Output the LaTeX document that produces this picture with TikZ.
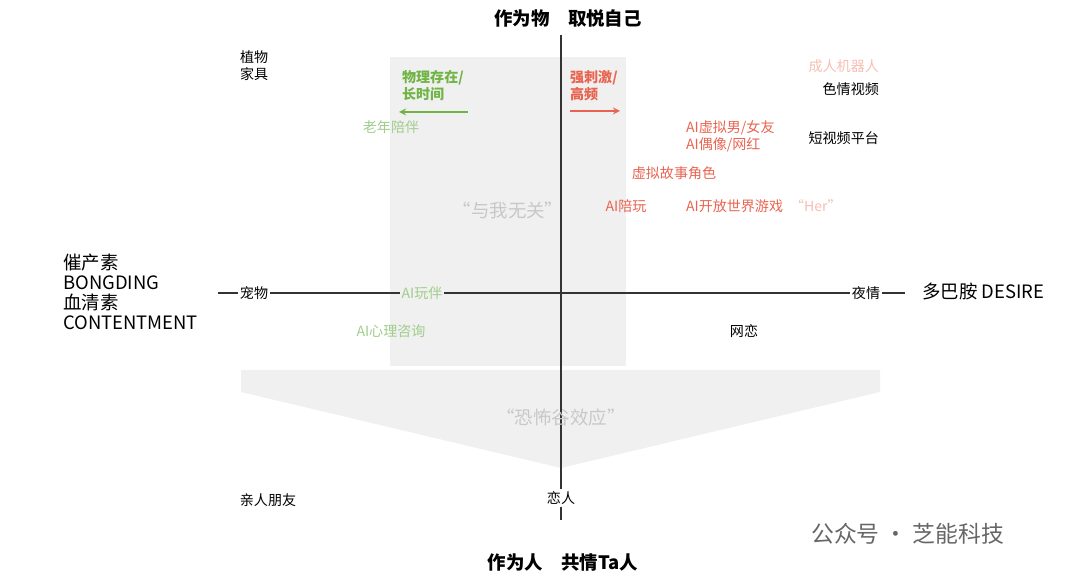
\documentclass[tikz,border=0pt]{standalone}
\usepackage{fontspec}
\setmainfont{Noto Sans CJK SC}
\usetikzlibrary{arrows}

\definecolor{boxgray}{RGB}{240,240,240}
\definecolor{aigreen}{RGB}{112,180,70}
\definecolor{lightgreen}{RGB}{160,205,140}
\definecolor{aired}{RGB}{232,100,80}
\definecolor{palered}{RGB}{246,190,180}
\definecolor{quotegray}{RGB}{200,200,200}

\tikzset{
  lbl/.style={font=\fontsize{8}{9.6}\selectfont, align=left, inner sep=1pt},
  big/.style={font=\fontsize{10.5}{12}\selectfont\bfseries, inner sep=1pt},
  quote/.style={font=\fontsize{10.5}{12}\selectfont, text=quotegray, inner sep=1pt},
  axis/.style={line width=0.8pt, black!80}
}

\begin{document}
\begin{tikzpicture}[x=0.02cm,y=-0.02cm]
  \useasboundingbox (0,0) rectangle (1080,577);

  % shaded regions
  \fill[boxgray] (390,57) rectangle (626,366);
  \fill[boxgray] (241,370)--(880,370)--(880,392)--(561,468)--(241,392)--cycle;

  % axes
  \node[big] (top) at (568,19) {作为物\quad 取悦自己};
  \node[big] (bottom) at (563,563) {作为人\quad 共情Ta人};
  \node[lbl] (lover) at (561,498) {恋人};
  \coordinate (vtop) at (561,35);
  \draw[axis] (vtop)--(lover.north);
  \draw[axis] (lover.south)--(561,520);

  \node[lbl] (pet) at (254,293) {宠物};
  \node[lbl] (night) at (866,293) {夜情};
  \node[lbl, text=lightgreen, fill=boxgray] (aiplay) at (422,293) {AI玩伴};
  \coordinate (hl) at (218,293);
  \coordinate (hr) at (905,293);
  \draw[axis] (hl)--(pet.west);
  \draw[axis] (pet.east)--(aiplay.west);
  \draw[axis] (aiplay.east)--(night.west);
  \draw[axis] (night.east)--(hr);

  % axis ends
  \node[font=\fontsize{10.5}{11.3}\selectfont, align=left, anchor=west] (oxy) at (57,292)
    {催产素\\BONGDING\\血清素\\CONTENTMENT};
  \node[big, font=\fontsize{10.5}{12}\selectfont, anchor=west] (dopa) at (920,291) {多巴胺 DESIRE};

  % left quadrant
  \node[lbl, anchor=north west] (plant) at (238,49) {植物\\家具};
  \node[lbl, anchor=north west, text=aigreen, font=\fontsize{8}{9.6}\selectfont\bfseries] (phys) at (400,68) {物理存在/\\长时间};
  \draw[aigreen, line width=0.8pt, -stealth] (468,112)--(399,112);
  \node[lbl, text=lightgreen] (elder) at (391,127) {老年陪伴};
  \node[quote] (notme) at (508,210) {“与我无关”};
  \node[lbl, text=lightgreen] (psy) at (391,331) {AI心理咨询};
  \node[lbl] (family) at (268,500) {亲人朋友};
  \node[quote] (valley) at (561,417) {“恐怖谷效应”};

  % right quadrant
  \node[lbl, anchor=north west, text=aired, font=\fontsize{8}{9.6}\selectfont\bfseries] (stim) at (568,68) {强刺激/\\高频};
  \draw[aired, line width=0.8pt, -stealth] (570,111)--(620,111);
  \node[lbl, text=palered, anchor=east] (robot) at (881,66) {成人机器人};
  \node[lbl, anchor=east] (porn) at (881,89) {色情视频};
  \node[lbl, anchor=east] (short) at (881,138) {短视频平台};
  \node[lbl, text=aired, anchor=west] (gf) at (684,136) {AI虚拟男/女友\\AI偶像/网红};
  \node[lbl, text=aired] (story) at (674,173) {虚拟故事角色};
  \node[lbl, text=aired] (aipw) at (626,206) {AI陪玩};
  \node[lbl, text=aired, anchor=west] (game) at (684,206) {AI开放世界游戏};
  \node[lbl, text=palered, anchor=west] (her) at (788,206) {“Her”};
  \node[lbl] (online) at (744,331) {网恋};

  % watermark
  \node[font=\fontsize{13}{15}\selectfont, text=black!60, anchor=west] (mark) at (805,534) {公众号 · 芝能科技};
\end{tikzpicture}
\end{document}
